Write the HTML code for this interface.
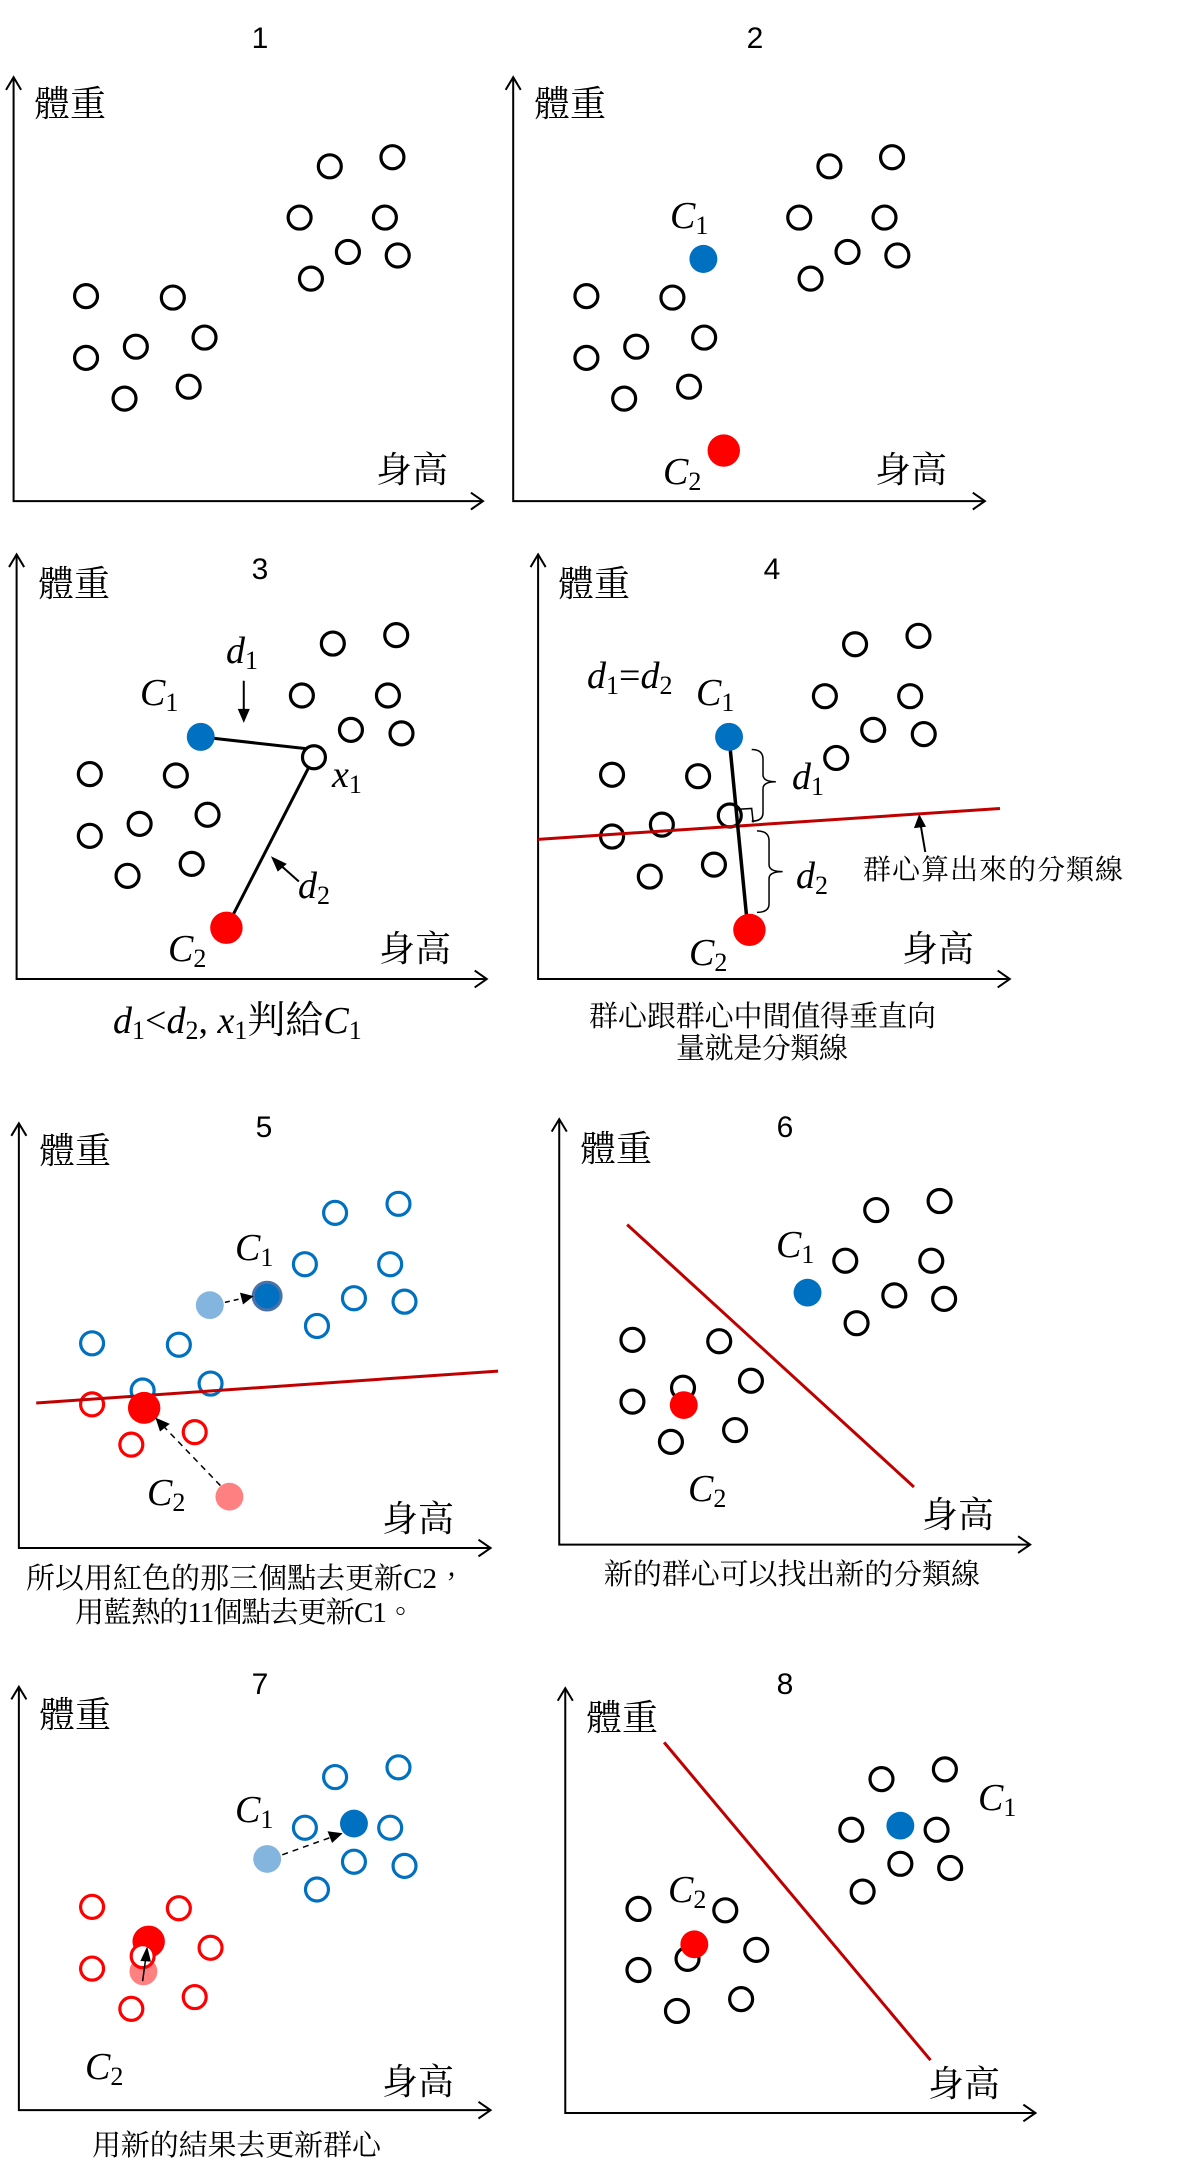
<!DOCTYPE html>
<html><head><meta charset="utf-8"><style>
html,body{margin:0;padding:0;background:#fff}
svg{display:block}
.cj{font-family:"Liberation Serif","Noto Serif CJK TC","Noto Serif CJK SC",serif;fill:#000}
.ti{font-family:"Liberation Sans","Noto Sans CJK TC",sans-serif;fill:#000;font-size:30px}
.it{font-family:"Liberation Serif",serif;font-style:italic;fill:#000}
.sb{font-family:"Liberation Serif",serif;font-style:normal}
.g ellipse.o{fill:#fff;stroke:#000;stroke-width:3.2}
.g ellipse.bo{fill:#fff;stroke:#0070C0;stroke-width:3.2}
.g ellipse.ro{fill:#fff;stroke:#FF0000;stroke-width:3.2}
.g *{vector-effect:non-scaling-stroke}
.ax{fill:none;stroke:#000;stroke-width:2}
</style></head><body>
<svg width="1183" height="2178" viewBox="0 0 1183 2178" xmlns="http://www.w3.org/2000/svg">
<!-- TOP HALF (zoom1 coords) -->
<g class="g" transform="scale(0.7547,0.7018)">
 <!-- panel 1 -->
 <polyline class="ax" points="18,110 18,714 640,714"/>
 <polyline class="ax" points="8,128 18,110 28,128"/>
 <polyline class="ax" points="624,702 640,714 624,726"/>
 <g>
 <ellipse class="o" cx="437" cy="237" rx="15.2" ry="16.4"/><ellipse class="o" cx="520" cy="224" rx="15.2" ry="16.4"/>
 <ellipse class="o" cx="397" cy="310" rx="15.2" ry="16.4"/><ellipse class="o" cx="510" cy="310" rx="15.2" ry="16.4"/>
 <ellipse class="o" cx="461" cy="359" rx="15.2" ry="16.4"/><ellipse class="o" cx="527" cy="364" rx="15.2" ry="16.4"/>
 <ellipse class="o" cx="412" cy="397" rx="15.2" ry="16.4"/><ellipse class="o" cx="114" cy="422" rx="15.2" ry="16.4"/>
 <ellipse class="o" cx="229" cy="424" rx="15.2" ry="16.4"/><ellipse class="o" cx="271" cy="481" rx="15.2" ry="16.4"/>
 <ellipse class="o" cx="180" cy="494" rx="15.2" ry="16.4"/><ellipse class="o" cx="114" cy="510" rx="15.2" ry="16.4"/>
 <ellipse class="o" cx="250" cy="551" rx="15.2" ry="16.4"/><ellipse class="o" cx="165" cy="568" rx="15.2" ry="16.4"/>
 </g>
 <!-- panel 2 -->
 <polyline class="ax" points="680,110 680,714 1305,714"/>
 <polyline class="ax" points="670,128 680,110 690,128"/>
 <polyline class="ax" points="1289,702 1305,714 1289,726"/>
 <g transform="translate(662,0)">
 <ellipse class="o" cx="437" cy="237" rx="15.2" ry="16.4"/><ellipse class="o" cx="520" cy="224" rx="15.2" ry="16.4"/>
 <ellipse class="o" cx="397" cy="310" rx="15.2" ry="16.4"/><ellipse class="o" cx="510" cy="310" rx="15.2" ry="16.4"/>
 <ellipse class="o" cx="461" cy="359" rx="15.2" ry="16.4"/><ellipse class="o" cx="527" cy="364" rx="15.2" ry="16.4"/>
 <ellipse class="o" cx="412" cy="397" rx="15.2" ry="16.4"/><ellipse class="o" cx="115" cy="422" rx="15.2" ry="16.4"/>
 <ellipse class="o" cx="229" cy="424" rx="15.2" ry="16.4"/><ellipse class="o" cx="271" cy="481" rx="15.2" ry="16.4"/>
 <ellipse class="o" cx="181" cy="494" rx="15.2" ry="16.4"/><ellipse class="o" cx="115" cy="510" rx="15.2" ry="16.4"/>
 <ellipse class="o" cx="251" cy="551" rx="15.2" ry="16.4"/><ellipse class="o" cx="165" cy="568" rx="15.2" ry="16.4"/>
 </g>
 <ellipse cx="932" cy="369" rx="18.5" ry="20" fill="#0070C0"/>
 <ellipse cx="959" cy="642" rx="21.5" ry="23" fill="#FF0000"/>
 <!-- panel 3 -->
 <polyline class="ax" points="22,790 22,1395 645,1395"/>
 <polyline class="ax" points="12,808 22,790 32,808"/>
 <polyline class="ax" points="629,1383 645,1395 629,1407"/>
 <line x1="266" y1="1050" x2="416" y2="1068" stroke="#000" stroke-width="3"/>
 <line x1="300" y1="1322" x2="416" y2="1079" stroke="#000" stroke-width="3"/>
 <g transform="translate(4,680)">
 <ellipse class="o" cx="437" cy="237" rx="15.2" ry="16.4"/><ellipse class="o" cx="521" cy="225" rx="15.2" ry="16.4"/>
 <ellipse class="o" cx="396" cy="311" rx="15.2" ry="16.4"/><ellipse class="o" cx="510" cy="311" rx="15.2" ry="16.4"/>
 <ellipse class="o" cx="461" cy="360" rx="15.2" ry="16.4"/><ellipse class="o" cx="528" cy="365" rx="15.2" ry="16.4"/>
 <ellipse class="o" cx="412" cy="399" rx="15.2" ry="16.4"/><ellipse class="o" cx="115" cy="423" rx="15.2" ry="16.4"/>
 <ellipse class="o" cx="229" cy="425" rx="15.2" ry="16.4"/><ellipse class="o" cx="271" cy="481" rx="15.2" ry="16.4"/>
 <ellipse class="o" cx="181" cy="494" rx="15.2" ry="16.4"/><ellipse class="o" cx="115" cy="511" rx="15.2" ry="16.4"/>
 <ellipse class="o" cx="250" cy="551" rx="15.2" ry="16.4"/><ellipse class="o" cx="165" cy="568" rx="15.2" ry="16.4"/>
 </g>
 <ellipse cx="266" cy="1050" rx="18.5" ry="20" fill="#0070C0"/>
 <ellipse cx="300" cy="1322" rx="21.5" ry="23" fill="#FF0000"/>
 <line x1="323" y1="970" x2="323" y2="1015" stroke="#000" stroke-width="2"/>
 <polygon points="315,1010 331,1010 323,1030" fill="#000"/>
 <line x1="396" y1="1256" x2="372" y2="1233" stroke="#000" stroke-width="2"/>
 <polygon points="359,1220 380,1231 368,1242" fill="#000"/>
 <!-- panel 4 -->
 <polyline class="ax" points="713,790 713,1395 1338,1395"/>
 <polyline class="ax" points="703,808 713,790 723,808"/>
 <polyline class="ax" points="1322,1383 1338,1395 1322,1407"/>
 <g transform="translate(696,681)">
 <ellipse class="o" cx="437" cy="237" rx="15.2" ry="16.4"/><ellipse class="o" cx="521" cy="225" rx="15.2" ry="16.4"/>
 <ellipse class="o" cx="397" cy="311" rx="15.2" ry="16.4"/><ellipse class="o" cx="510" cy="311" rx="15.2" ry="16.4"/>
 <ellipse class="o" cx="461" cy="359" rx="15.2" ry="16.4"/><ellipse class="o" cx="528" cy="365" rx="15.2" ry="16.4"/>
 <ellipse class="o" cx="412" cy="399" rx="15.2" ry="16.4"/><ellipse class="o" cx="115" cy="423" rx="15.2" ry="16.4"/>
 <ellipse class="o" cx="229" cy="425" rx="15.2" ry="16.4"/><ellipse class="o" cx="271" cy="481" rx="15.2" ry="16.4"/>
 <ellipse class="o" cx="181" cy="494" rx="15.2" ry="16.4"/><ellipse class="o" cx="115" cy="511" rx="15.2" ry="16.4"/>
 <ellipse class="o" cx="250" cy="551" rx="15.2" ry="16.4"/><ellipse class="o" cx="165" cy="568" rx="15.2" ry="16.4"/>
 </g>
 <line x1="713" y1="1196" x2="1325" y2="1152" stroke="#C00000" stroke-width="3"/>
 <line x1="966" y1="1050" x2="991" y2="1325" stroke="#000" stroke-width="3.5"/>
 <polyline points="981,1153 996,1152 998,1172" fill="none" stroke="#000" stroke-width="1.5"/>
 <ellipse cx="966" cy="1050" rx="18.5" ry="20" fill="#0070C0"/>
 <ellipse cx="993" cy="1325" rx="21.5" ry="23" fill="#FF0000"/>
 <path d="M996,1068 Q1011,1068 1011,1082 L1011,1104 Q1011,1114 1028,1114 Q1011,1114 1011,1124 L1011,1158 Q1011,1170 996,1170" fill="none" stroke="#000" stroke-width="1.5"/>
 <path d="M1003,1184 Q1019,1184 1019,1198 L1019,1232 Q1019,1242 1037,1242 Q1019,1242 1019,1252 L1019,1288 Q1019,1300 1003,1300" fill="none" stroke="#000" stroke-width="1.5"/>
 <line x1="1226" y1="1214" x2="1220" y2="1176" stroke="#000" stroke-width="2"/>
 <polygon points="1211,1180 1227,1178 1218,1160" fill="#000"/>
</g>

<!-- BOTTOM HALF (zoom2 coords) -->
<g class="g" transform="translate(0,1090) scale(0.7547,0.694)">
 <!-- panel 5 -->
 <polyline class="ax" points="25,48 25,660 650,660"/>
 <polyline class="ax" points="15,66 25,48 35,66"/>
 <polyline class="ax" points="634,648 650,660 634,672"/>
 <ellipse class="bo" cx="444" cy="177" rx="15.2" ry="16.6"/><ellipse class="bo" cx="528" cy="164" rx="15.2" ry="16.6"/>
 <ellipse class="bo" cx="404" cy="251" rx="15.2" ry="16.6"/><ellipse class="bo" cx="517" cy="251" rx="15.2" ry="16.6"/>
 <ellipse class="bo" cx="469" cy="300" rx="15.2" ry="16.6"/><ellipse class="bo" cx="536" cy="305" rx="15.2" ry="16.6"/>
 <ellipse class="bo" cx="420" cy="340" rx="15.2" ry="16.6"/><ellipse class="bo" cx="122" cy="365" rx="15.2" ry="16.6"/>
 <ellipse class="bo" cx="237" cy="367" rx="15.2" ry="16.6"/><ellipse class="bo" cx="279" cy="423" rx="15.2" ry="16.6"/>
 <ellipse class="bo" cx="189" cy="433" rx="15.2" ry="16.6"/>
 <ellipse class="ro" cx="122" cy="453" rx="15.2" ry="16.6"/><ellipse class="ro" cx="258" cy="493" rx="15.2" ry="16.6"/>
 <ellipse class="ro" cx="174" cy="511" rx="15.2" ry="16.6"/>
 <line x1="48" y1="451" x2="660" y2="405" stroke="#C00000" stroke-width="3"/>
 <ellipse cx="278" cy="310" rx="18.5" ry="20" fill="#84B5DE"/>
 <ellipse cx="354" cy="297" rx="18.5" ry="20" fill="#0070C0" stroke="#4A72A8" stroke-width="3"/>
 <line x1="298" y1="306" x2="322" y2="300" stroke="#000" stroke-width="1.5" stroke-dasharray="5,4"/>
 <polygon points="318,292 322,309 336,297" fill="#000"/>
 <ellipse cx="304" cy="586" rx="18.5" ry="20" fill="#FF8080"/>
 <ellipse cx="191" cy="458" rx="21.5" ry="23" fill="#FF0000"/>
 <line x1="292" y1="570" x2="218" y2="486" stroke="#000" stroke-width="1.5" stroke-dasharray="6,5"/>
 <polygon points="206,472 225,481 212,492" fill="#000"/>
 <!-- panel 6 -->
 <polyline class="ax" points="741,42 741,655 1365,655"/>
 <polyline class="ax" points="731,60 741,42 751,60"/>
 <polyline class="ax" points="1349,643 1365,655 1349,667"/>
 <ellipse class="o" cx="1161" cy="173" rx="15.2" ry="16.6"/><ellipse class="o" cx="1245" cy="160" rx="15.2" ry="16.6"/>
 <ellipse class="o" cx="1120" cy="246" rx="15.2" ry="16.6"/><ellipse class="o" cx="1234" cy="246" rx="15.2" ry="16.6"/>
 <ellipse class="o" cx="1185" cy="296" rx="15.2" ry="16.6"/><ellipse class="o" cx="1251" cy="301" rx="15.2" ry="16.6"/>
 <ellipse class="o" cx="1135" cy="336" rx="15.2" ry="16.6"/><ellipse class="o" cx="838" cy="360" rx="15.2" ry="16.6"/>
 <ellipse class="o" cx="953" cy="362" rx="15.2" ry="16.6"/><ellipse class="o" cx="995" cy="419" rx="15.2" ry="16.6"/>
 <ellipse class="o" cx="905" cy="429" rx="15.2" ry="16.6"/><ellipse class="o" cx="838" cy="449" rx="15.2" ry="16.6"/>
 <ellipse class="o" cx="974" cy="490" rx="15.2" ry="16.6"/><ellipse class="o" cx="889" cy="507" rx="15.2" ry="16.6"/>
 <ellipse cx="1070" cy="292" rx="18.5" ry="20" fill="#0070C0"/>
 <ellipse cx="906" cy="454" rx="18.5" ry="20" fill="#FF0000"/>
 <line x1="831" y1="194" x2="1211" y2="572" stroke="#C00000" stroke-width="3"/>
 <!-- panel 7 -->
 <polyline class="ax" points="25,860 25,1470 650,1470"/>
 <polyline class="ax" points="15,878 25,860 35,878"/>
 <polyline class="ax" points="634,1458 650,1470 634,1482"/>
 <ellipse class="bo" cx="444" cy="990" rx="15.2" ry="16.6"/><ellipse class="bo" cx="528" cy="976" rx="15.2" ry="16.6"/>
 <ellipse class="bo" cx="404" cy="1063" rx="15.2" ry="16.6"/><ellipse class="bo" cx="517" cy="1063" rx="15.2" ry="16.6"/>
 <ellipse class="bo" cx="469" cy="1112" rx="15.2" ry="16.6"/><ellipse class="bo" cx="536" cy="1118" rx="15.2" ry="16.6"/>
 <ellipse class="bo" cx="420" cy="1152" rx="15.2" ry="16.6"/>
 <ellipse cx="469" cy="1057" rx="18.5" ry="20" fill="#0070C0"/>
 <ellipse cx="354" cy="1108" rx="18.5" ry="20" fill="#84B5DE"/>
 <line x1="374" y1="1102" x2="438" y2="1077" stroke="#000" stroke-width="1.5" stroke-dasharray="6,5"/>
 <polygon points="434,1068 440,1085 454,1071" fill="#000"/>
 <ellipse class="ro" cx="122" cy="1177" rx="15.2" ry="16.6"/><ellipse class="ro" cx="237" cy="1179" rx="15.2" ry="16.6"/>
 <ellipse class="ro" cx="279" cy="1236" rx="15.2" ry="16.6"/><ellipse class="ro" cx="122" cy="1266" rx="15.2" ry="16.6"/>
 <ellipse class="ro" cx="258" cy="1307" rx="15.2" ry="16.6"/><ellipse class="ro" cx="174" cy="1324" rx="15.2" ry="16.6"/>
 <ellipse cx="190" cy="1270" rx="18.5" ry="20" fill="#FF8080"/>
 <ellipse cx="197" cy="1227" rx="21.5" ry="23" fill="#FF0000"/>
 <ellipse class="ro" cx="189" cy="1248" rx="15.2" ry="16.6"/>
 <line x1="189" y1="1284" x2="193" y2="1252" stroke="#000" stroke-width="1.5"/>
 <polygon points="186,1255 200,1256 195,1234" fill="#000"/>
 <!-- panel 8 -->
 <polyline class="ax" points="749,862 749,1474 1372,1474"/>
 <polyline class="ax" points="739,880 749,862 759,880"/>
 <polyline class="ax" points="1356,1462 1372,1474 1356,1486"/>
 <ellipse class="o" cx="1168" cy="993" rx="15.2" ry="16.6"/><ellipse class="o" cx="1252" cy="979" rx="15.2" ry="16.6"/>
 <ellipse class="o" cx="1128" cy="1066" rx="15.2" ry="16.6"/><ellipse class="o" cx="1241" cy="1066" rx="15.2" ry="16.6"/>
 <ellipse class="o" cx="1193" cy="1115" rx="15.2" ry="16.6"/><ellipse class="o" cx="1259" cy="1121" rx="15.2" ry="16.6"/>
 <ellipse class="o" cx="1143" cy="1155" rx="15.2" ry="16.6"/><ellipse class="o" cx="846" cy="1180" rx="15.2" ry="16.6"/>
 <ellipse class="o" cx="961" cy="1182" rx="15.2" ry="16.6"/><ellipse class="o" cx="1002" cy="1239" rx="15.2" ry="16.6"/>
 <ellipse class="o" cx="911" cy="1252" rx="15.2" ry="16.6"/><ellipse class="o" cx="846" cy="1268" rx="15.2" ry="16.6"/>
 <ellipse class="o" cx="982" cy="1310" rx="15.2" ry="16.6"/><ellipse class="o" cx="897" cy="1327" rx="15.2" ry="16.6"/>
 <ellipse cx="1193" cy="1060" rx="18.5" ry="20" fill="#0070C0"/>
 <ellipse cx="920" cy="1231" rx="18.5" ry="20" fill="#FF0000"/>
 <line x1="880" y1="940" x2="1233" y2="1398" stroke="#C00000" stroke-width="3"/>
</g>

<!-- TEXT (actual coords) -->
<g font-size="36">
 <text class="ti" x="260" y="48" text-anchor="middle">1</text>
 <text class="ti" x="755" y="48" text-anchor="middle">2</text>
 <text class="ti" x="260" y="579" text-anchor="middle">3</text>
 <text class="ti" x="772" y="579" text-anchor="middle">4</text>
 <text class="ti" x="264" y="1137" text-anchor="middle">5</text>
 <text class="ti" x="785" y="1137" text-anchor="middle">6</text>
 <text class="ti" x="260" y="1694" text-anchor="middle">7</text>
 <text class="ti" x="785" y="1694" text-anchor="middle">8</text>

 <text class="cj" x="34" y="116" font-size="36" textLength="72">體重</text>
 <text class="cj" x="534" y="116" font-size="36" textLength="72">體重</text>
 <text class="cj" x="38" y="596" font-size="36" textLength="72">體重</text>
 <text class="cj" x="558" y="596" font-size="36" textLength="72">體重</text>
 <text class="cj" x="39" y="1163" font-size="36" textLength="72">體重</text>
 <text class="cj" x="580" y="1161" font-size="36" textLength="72">體重</text>
 <text class="cj" x="39" y="1727" font-size="36" textLength="72">體重</text>
 <text class="cj" x="586" y="1730" font-size="36" textLength="72">體重</text>

 <text class="cj" x="376" y="482" font-size="36" textLength="72">身高</text>
 <text class="cj" x="875" y="482" font-size="36" textLength="72">身高</text>
 <text class="cj" x="379" y="961" font-size="36" textLength="72">身高</text>
 <text class="cj" x="902" y="961" font-size="36" textLength="72">身高</text>
 <text class="cj" x="382" y="1531" font-size="36" textLength="72">身高</text>
 <text class="cj" x="922" y="1527" font-size="36" textLength="72">身高</text>
 <text class="cj" x="382" y="2094" font-size="36" textLength="72">身高</text>
 <text class="cj" x="928" y="2096" font-size="36" textLength="72">身高</text>

 <text class="it" x="670" y="228" font-size="38">C<tspan class="sb" font-size="26" dy="6">1</tspan></text>
 <text class="it" x="663" y="484" font-size="38">C<tspan class="sb" font-size="26" dy="6">2</tspan></text>
 <text class="it" x="140" y="705" font-size="38">C<tspan class="sb" font-size="26" dy="6">1</tspan></text>
 <text class="it" x="168" y="961" font-size="38">C<tspan class="sb" font-size="26" dy="6">2</tspan></text>
 <text class="it" x="226" y="663" font-size="38">d<tspan class="sb" font-size="26" dy="6">1</tspan></text>
 <text class="it" x="332" y="787" font-size="38">x<tspan class="sb" font-size="26" dy="6">1</tspan></text>
 <text class="it" x="298" y="898" font-size="38">d<tspan class="sb" font-size="26" dy="6">2</tspan></text>
 <text class="it" x="113" y="1033" font-size="38">d<tspan class="sb" font-size="26" dy="6">1</tspan><tspan class="sb" dy="-6">&lt;</tspan>d<tspan class="sb" font-size="26" dy="6">2</tspan><tspan class="sb" dy="-6">, </tspan>x<tspan class="sb" font-size="26" dy="6">1</tspan><tspan class="cj" style="font-style:normal" dy="-6">判給</tspan>C<tspan class="sb" font-size="26" dy="6">1</tspan></text>

 <text class="it" x="587" y="688" font-size="38">d<tspan class="sb" font-size="26" dy="6">1</tspan><tspan class="sb" dy="-6">=</tspan>d<tspan class="sb" font-size="26" dy="6">2</tspan></text>
 <text class="it" x="696" y="705" font-size="38">C<tspan class="sb" font-size="26" dy="6">1</tspan></text>
 <text class="it" x="689" y="965" font-size="38">C<tspan class="sb" font-size="26" dy="6">2</tspan></text>
 <text class="it" x="792" y="789" font-size="38">d<tspan class="sb" font-size="26" dy="6">1</tspan></text>
 <text class="it" x="796" y="888" font-size="38">d<tspan class="sb" font-size="26" dy="6">2</tspan></text>
 <text class="cj" x="863" y="879" font-size="28" textLength="260">群心算出來的分類線</text>
 <text class="cj" x="589" y="1026" font-size="29" textLength="347">群心跟群心中間值得垂直向</text>
 <text class="cj" x="676" y="1058" font-size="29" textLength="172">量就是分類線</text>

 <text class="it" x="235" y="1260" font-size="38">C<tspan class="sb" font-size="26" dy="6">1</tspan></text>
 <text class="it" x="147" y="1505" font-size="38">C<tspan class="sb" font-size="26" dy="6">2</tspan></text>
 <text class="cj" x="26" y="1588" font-size="29" textLength="440">所以用紅色的那三個點去更新C2，</text>
 <text class="cj" x="75" y="1622" font-size="29" textLength="340">用藍熱的11個點去更新C1。</text>

 <text class="it" x="776" y="1257" font-size="38">C<tspan class="sb" font-size="26" dy="6">1</tspan></text>
 <text class="it" x="688" y="1501" font-size="38">C<tspan class="sb" font-size="26" dy="6">2</tspan></text>
 <text class="cj" x="604" y="1584" font-size="29" textLength="376">新的群心可以找出新的分類線</text>

 <text class="it" x="235" y="1822" font-size="38">C<tspan class="sb" font-size="26" dy="6">1</tspan></text>
 <text class="it" x="85" y="2079" font-size="38">C<tspan class="sb" font-size="26" dy="6">2</tspan></text>
 <text class="cj" x="92" y="2155" font-size="29" textLength="289">用新的結果去更新群心</text>

 <text class="it" x="978" y="1810" font-size="38">C<tspan class="sb" font-size="26" dy="6">1</tspan></text>
 <text class="it" x="668" y="1902" font-size="38">C<tspan class="sb" font-size="26" dy="6">2</tspan></text>
</g>
</svg>
</body></html>
